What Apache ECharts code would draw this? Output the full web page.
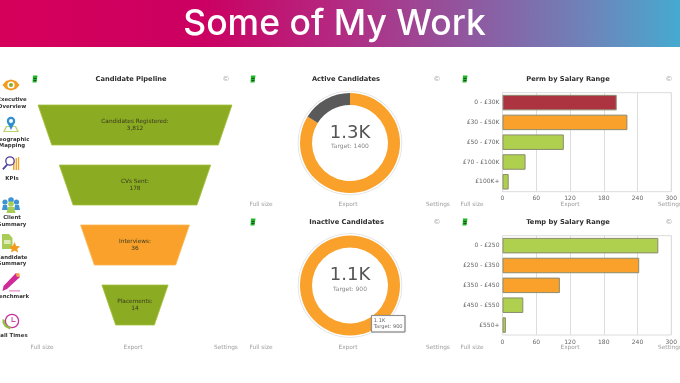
<!DOCTYPE html>
<html>
<head>
<meta charset="utf-8">
<style>html,body{margin:0;padding:0;background:#fff}#c{width:680px;height:383px}</style>
<script src="https://cdn.jsdelivr.net/npm/echarts@6/dist/echarts.min.js"></script>
</head>
<body>
<div id="c"></div>
<script>
const bannerTitle = 'Some of My Work';
const pipelineStages = ['Candidates Registered', 'CVs Sent', 'Interviews', 'Placements'];
const pipelineValues = [3812, 178, 36, 14];
const activeLabel = '1.3K';
const activeTarget = 1400;
const activeValues = [1300, 250];
const inactiveLabel = '1.1K';
const inactiveTarget = 900;
const inactiveValues = [1100];
const permCategories = ['0 - £30K', '£30 - £50K', '£50 - £70K', '£70 - £100K', '£100K+'];
const permValues = [203, 222, 109, 41, 11];
const tempCategories = ['0 - £250', '£250 - £350', '£350 - £450', '£450 - £550', '£550+'];
const tempValues = [277, 243, 102, 37, 6];
const axisTicks = [0, 60, 120, 180, 240, 300];
const navItems = ['Executive\nOverview', 'Geographic\nMapping', 'KPIs', 'Client\nSummary', 'Candidate\nSummary', 'Benchmark', 'Call Times'];

const OLIVE = '#8aab22', ORANGE = '#f9a12a', GREEN = '#aed04e', RED = '#ab3440', DARK = '#5a5a5a';
const permColors = [RED, ORANGE, GREEN, GREEN, GREEN];
const tempColors = [GREEN, ORANGE, ORANGE, GREEN, GREEN];
const pipelineColors = [OLIVE, OLIVE, ORANGE, OLIVE];
const FONT = '"DejaVu Sans", Verdana, sans-serif';

const graphic = [];
function rect(x, y, w, h, fill, extra) { graphic.push(Object.assign({type:'rect', silent:true, shape:{x,y,width:w,height:h}, style:{fill}}, extra||{})); }
function circle(cx, cy, r, style) { graphic.push({type:'circle', silent:true, shape:{cx,cy,r}, style}); }
function poly(points, fill) { graphic.push({type:'polygon', silent:true, shape:{points}, style:{fill}}); }
function text(t, x, y, size, color, align, weight, lh) {
  graphic.push({type:'text', silent:true, style:{text:t, x, y, fill:color, align:align||'center', verticalAlign:'middle',
    font:(weight||'normal')+' '+size+'px '+FONT, lineHeight:lh||size+0.6}});
}

// banner
graphic.push({type:'rect', silent:true, z:-1, shape:{x:0,y:0,width:680,height:47},
  style:{fill:new echarts.graphic.LinearGradient(0,0,1,0.08,[
    {offset:0,color:'#d6005a'},{offset:0.3,color:'#cb0062'},{offset:0.5,color:'#b32a82'},
    {offset:0.72,color:'#8a5fa4'},{offset:0.88,color:'#6a88bc'},{offset:1,color:'#45aad0'}])}});
graphic.push({type:'text', silent:true, style:{text:bannerTitle, x:334.5, y:24, fill:'#fff', align:'center', verticalAlign:'middle',
  font:'500 35.5px Inter, sans-serif'}});

// panel chrome
const panels = [
  {icon:35, title:'Candidate Pipeline', cx:131, y:79, cr:226, full:42, exp:133, set:226, foot:347},
  {icon:253, title:'Active Candidates', cx:346, y:79, cr:437, full:261, exp:348, set:438, foot:204.5},
  {icon:465, title:'Perm by Salary Range', cx:568, y:79, cr:669, full:472, exp:570, set:670, foot:204.5},
  {icon:253, title:'Inactive Candidates', cx:346.5, y:222, cr:437, full:261, exp:348, set:438, foot:347},
  {icon:465, title:'Temp by Salary Range', cx:568, y:222, cr:669, full:472, exp:570, set:670, foot:347}
];
panels.forEach(p => {
  poly([[p.icon-2,p.y-3.5],[p.icon+2.5,p.y-3.5],[p.icon+1.5,p.y+3.5],[p.icon-2.5,p.y+3.5]], '#22b52a');
  rect(p.icon-1.5,p.y-1,3,0.8,'#143b16'); rect(p.icon-1.5,p.y+1,3,0.8,'#143b16');
  text(p.title, p.cx, p.y, 6.7, '#2e2e2e', 'center', 'bold');
  text('©', p.cr, p.y, 7, '#a5a5a5');
  text('Full size', p.full, p.foot, 5.8, '#9b9b9b');
  text('Export', p.exp, p.foot, 5.8, '#9b9b9b');
  text('Settings', p.set, p.foot, 5.8, '#9b9b9b');
});

// left navigation
const navY = [103, 142.5, 179, 221, 260.5, 297, 336];
navItems.forEach((t,i) => text(t, 12, navY[i], 5.4, '#333', 'center', 'bold', 6.4));
// eye
poly([[2.5,85],[6,81],[11,79.5],[16,81],[19.5,85],[16,89],[11,90.5],[6,89]], '#f39a1f');
circle(11,85,3.6,{fill:'#fff'}); circle(11,85,2,{fill:'#8aab22'});
// map pin
poly([[3,132],[6,126],[16,126],[19,132]], '#b9d36e'); poly([[5,131],[7,127],[15,127],[17,131]], '#fff');
poly([[7,122],[11,130],[15,122]], '#2f8fd0'); circle(11,121,4.2,{fill:'#2f8fd0'}); circle(11,121,2,{fill:'#fff'});
// KPI
rect(13,161,1.6,9,'#f2a52c'); rect(15.6,158,1.6,12,'#f2a52c'); rect(18,157,1.2,13,'#f2a52c');
circle(10,161,4.2,{fill:'#fff',stroke:'#4f3f9e',lineWidth:1.3});
poly([[6.5,164],[7.8,165.2],[3.5,170],[2.2,168.8]], '#4f3f9e');
// client
circle(5,202,2.6,{fill:'#3d93d4'}); circle(16.5,202,2.6,{fill:'#3d93d4'}); circle(11,200,2.8,{fill:'#3d93d4'});
poly([[2,210],[3,205],[7,205],[8,210]], '#3d93d4'); poly([[14,210],[15,205],[19,205],[20,210]], '#3d93d4');
circle(11,204,2.8,{fill:'#a8cc55'}); poly([[6.5,213],[8,207],[14,207],[15.5,213]], '#a8cc55');
// candidate doc
poly([[2,234],[9,234],[12.5,238],[12.5,249],[2,249]], '#a8cc55'); rect(4,240,6.5,4,'#dfeab8');
poly([[14.5,242],[16.2,246],[20,246.3],[17.2,249],[18.1,252.5],[14.5,250.6],[10.9,252.5],[11.8,249],[9,246.3],[12.8,246]], '#f39a1f');
// pencil
poly([[16,273],[20,277],[7,289],[2.5,291],[3.5,286]], '#cf2a9a');
circle(18,275,1.9,{fill:'#f4a64a'}); rect(9,290.5,11,0.8,'#d84aaa');
// clock
circle(12,321,6.6,{fill:'#fff',stroke:'#c7349f',lineWidth:1.3});
rect(11.6,317,0.9,4.5,'#c7349f'); rect(11.6,321,4,0.9,'#c7349f');
poly([[2.5,319],[2.5,323],[5,327],[10,329.5],[11,327],[7.5,326],[5,323],[5,320]], '#8fbf3c');

// tooltip callout
graphic.push({type:'rect', silent:true, z:20, shape:{x:371.5,y:315.5,width:33.5,height:16.5},
  style:{fill:'#fff',stroke:'#8f8f8f',lineWidth:1,shadowBlur:1,shadowColor:'rgba(0,0,0,.35)'}});
graphic.push({type:'text', silent:true, z:21, style:{text:inactiveLabel+'\nTarget: '+inactiveTarget, x:373.8, y:323.8, fill:'#666', align:'left', verticalAlign:'middle', font:'5.1px '+FONT, lineHeight:6.6}});

// funnel: one library funnel per stage so that each keeps its own taper
const funnelSeries = pipelineStages.map((name,i) => {
  const top = 194 - 42.6*i, bottom = top - 27.5;
  return {
    type:'funnel', left:135-top/2, width:top, top:105+60*i, height:40, min:0, max:pipelineValues[i],
    minSize:bottom, maxSize:top, sort:'none', gap:0, silent:true,
    label:{show:true, position:'inside', color:'#3b3b20', fontFamily:FONT, fontSize:5.8, lineHeight:6.4,
      formatter:p => p.name+':\n'+p.value.toLocaleString('en-GB')},
    labelLine:{show:false},
    itemStyle:{color:pipelineColors[i], borderColor:i===2?'#fbb552':'#a4c23c', borderWidth:0.8},
    data:[{name, value:pipelineValues[i]}]
  };
});

function donut(center, values, colors) {
  return [
    {type:'pie', silent:true, center, radius:[51.5,52.3], label:{show:false}, labelLine:{show:false}, z:1,
      itemStyle:{color:'#e0e0e0'}, data:[{value:1}]},
    {type:'pie', silent:true, center, radius:[38,50], startAngle:90, clockwise:true, z:2, label:{show:false}, labelLine:{show:false},
      data:values.map((v,i) => ({value:v, itemStyle:{color:colors[i]}}))}
  ];
}
function centerText(cx, cy, label, target) {
  text(label, cx, cy-10, 18, '#555');
  text('Target: '+target, cx, cy+3.5, 6, '#888');
}
centerText(350,143,activeLabel,activeTarget);
centerText(350,285.5,inactiveLabel,inactiveTarget);

function bars(grid, values, colors) {
  return {type:'bar', xAxisIndex:grid, yAxisIndex:grid, barWidth:15.5, silent:true,
    data:values.map((v,i) => ({value:v, itemStyle:{color:colors[i], borderColor:'#8b8b70', borderWidth:1}}))};
}
const grids = [
  {left:502.5, top:92.7, width:169, height:99, show:true, borderColor:'#dcdcdc', borderWidth:1, backgroundColor:'#fff'},
  {left:502.5, top:235.7, width:169, height:99.3, show:true, borderColor:'#dcdcdc', borderWidth:1, backgroundColor:'#fff'}
];
function xAxis(i) {
  return {gridIndex:i, type:'value', min:axisTicks[0], max:axisTicks[axisTicks.length-1], interval:axisTicks[1]-axisTicks[0],
    axisLine:{show:false}, axisTick:{show:false}, splitLine:{show:true, lineStyle:{color:'#dddddd', width:1}},
    axisLabel:{fontFamily:FONT, fontSize:6, color:'#666', margin:4, showMinLabel:true, showMaxLabel:true, hideOverlap:false}};
}
function yAxis(i, cats) {
  return {gridIndex:i, type:'category', inverse:true, data:cats, axisLine:{show:false}, axisTick:{show:false}, splitLine:{show:false},
    axisLabel:{fontFamily:FONT, fontSize:6, color:'#666', margin:3, interval:0}};
}

const chart = echarts.init(document.getElementById('c'), null, {renderer:'canvas'});
chart.setOption({
  animation:false,
  backgroundColor:'#fff',
  tooltip:{show:false},
  graphic:{elements:graphic},
  grid:grids,
  xAxis:[xAxis(0), xAxis(1)],
  yAxis:[yAxis(0,permCategories), yAxis(1,tempCategories)],
  series:[
    ...funnelSeries,
    ...donut([350,143], activeValues, [ORANGE, DARK]),
    ...donut([350,285.5], inactiveValues, [ORANGE]),
    bars(0, permValues, permColors),
    bars(1, tempValues, tempColors)
  ]
});
</script>
</body>
</html>
